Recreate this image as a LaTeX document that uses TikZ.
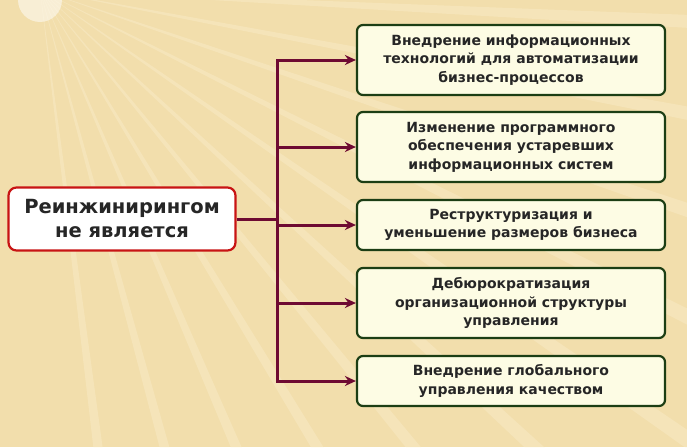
\documentclass[tikz,border=0pt]{standalone}
\usepackage{fontspec}
\setmainfont{DejaVu Sans}
\usetikzlibrary{positioning, arrows.meta}
\definecolor{bgsand}{RGB}{242,222,172}
\definecolor{rayc}{RGB}{255,248,225}
\definecolor{boxgreen}{RGB}{28,62,20}
\definecolor{boxfill}{RGB}{253,252,228}
\definecolor{linkred}{RGB}{110,10,50}
\definecolor{mainred}{RGB}{200,20,20}
\tikzstyle{item}=[draw=boxgreen, line width=2.2pt, fill=boxfill, rounded corners=6pt, minimum width=308pt, align=center, inner sep=2pt, font=\bfseries\fontsize{14}{18.5}\selectfont, text=black!85]
\tikzstyle{main}=[draw=mainred, line width=2.2pt, fill=white, rounded corners=8pt, minimum width=227pt, minimum height=63pt, align=center, inner sep=2pt, font=\bfseries\fontsize{19.5}{24}\selectfont, text=black!85]
\tikzset{link/.style={draw=linkred, line width=3pt}, >={Stealth[length=11pt,width=10pt]}}

\begin{document}
\begin{tikzpicture}[x=1pt, y=-1pt]
% the background
\fill[bgsand] (0,0) rectangle (687,447);
\useasboundingbox (0,0) rectangle (687,447);
\foreach \a in {-5,3,...,85} {
  \fill[rayc, opacity=0.25] (40,-10) -- ++(\a-0.8:900) -- ++(\a+92:18) -- cycle;
}
\fill[white, opacity=0.5] (40,0) circle (22);
% the main box
\node[main] (M) at (122,219) {Реинжинирингом\\не является};
% the items
\node[item, minimum height=70pt] (I1) at (511,60) {Внедрение информационных\\технологий для автоматизации\\бизнес-процессов};
\node[item, minimum height=70pt] (I2) at (511,147) {Изменение программного\\обеспечения устаревших\\информационных систем};
\node[item, minimum height=50pt] (I3) at (511,225) {Реструктуризация и\\уменьшение размеров бизнеса};
\node[item, minimum height=70pt] (I4) at (511,303) {Дебюрократизация\\организационной структуры\\управления};
\node[item, minimum height=50pt] (I5) at (511,381) {Внедрение глобального\\управления качеством};
% the connectors
\coordinate (J) at (277,219);
\coordinate (T) at (277,60);
\coordinate (B) at (277,381);
\draw[link] (M.east) -- (J);
\draw[link, line cap=rect] (T) -- (B);
\foreach \i in {1,...,5} {
  \draw[link, ->] (I\i.west -| J) -- (I\i.west);
}
\end{tikzpicture}
\end{document}
